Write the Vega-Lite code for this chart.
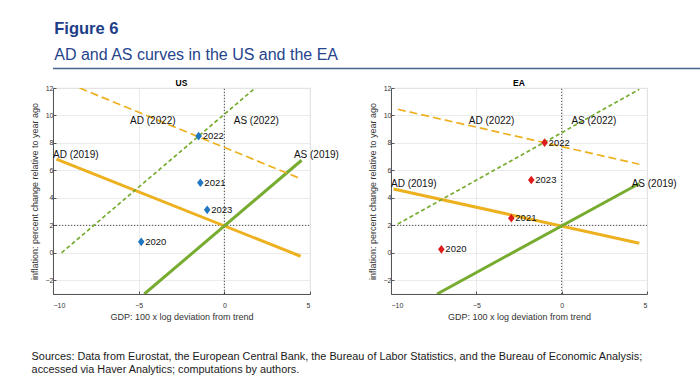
{
  "$schema": "https://vega.github.io/schema/vega-lite/v6.json",
  "padding": {"left": 29, "top": 21, "right": 0, "bottom": 0},
  "background": "white",
  "config": {
    "font": "Liberation Sans",
    "view": {"stroke": "#d4d4d4", "strokeWidth": 0.8},
    "axis": {
      "labelFont": "Liberation Sans", "labelFontSize": 7, "labelColor": "#333",
      "titleFont": "Liberation Sans", "titleFontSize": 9, "titleFontWeight": "normal", "titleColor": "#333",
      "domainColor": "#555", "tickColor": "#555", "tickSize": -3, "labelPadding": 3,
      "gridColor": "#e3e3e3", "gridWidth": 0.7
    },
    "axisX": {"labelPadding": 10},
    "title": {"font": "Liberation Sans"}
  },
  "title": {
    "text": ["Sources: Data from Eurostat, the European Central Bank, the Bureau of Labor Statistics, and the Bureau of Economic Analysis;", "accessed via Haver Analytics; computations by authors."],
    "orient": "bottom", "anchor": "start", "fontSize": 10.85, "fontWeight": "normal", "color": "#1a1a1a",
    "lineHeight": 12.5, "offset": 30, "dx": 2
  },
  "datasets": {
    "header": [{"x": 0, "x2": 1}],
    "ref": [{"x": 0, "y": -3, "x2": 0, "y2": 12}, {"x": -10, "y": 2, "x2": 5, "y2": 2}],
    "us_lines": [
      {"series": "AD (2019)", "x": -9.8, "y": 6.82}, {"series": "AD (2019)", "x": 4.45, "y": -0.25},
      {"series": "AS (2019)", "x": -4.67, "y": -3}, {"series": "AS (2019)", "x": 4.51, "y": 6.74},
      {"series": "AD (2022)", "x": -8.45, "y": 12}, {"series": "AD (2022)", "x": 4.5, "y": 5.37},
      {"series": "AS (2022)", "x": -9.5, "y": 0}, {"series": "AS (2022)", "x": 1.8, "y": 12}
    ],
    "ea_lines": [
      {"series": "AD (2019)", "x": -9.85, "y": 4.65}, {"series": "AD (2019)", "x": 4.55, "y": 0.7},
      {"series": "AS (2019)", "x": -7.3, "y": -3}, {"series": "AS (2019)", "x": 4.55, "y": 5.05},
      {"series": "AD (2022)", "x": -9.6, "y": 10.45}, {"series": "AD (2022)", "x": 4.55, "y": 6.45},
      {"series": "AS (2022)", "x": -9.6, "y": 2.1}, {"series": "AS (2022)", "x": 4.55, "y": 11.9}
    ],
    "us_points": [
      {"label": "2020", "x": -4.85, "y": 0.8},
      {"label": "2021", "x": -1.4, "y": 5.1},
      {"label": "2022", "x": -1.5, "y": 8.5},
      {"label": "2023", "x": -1.0, "y": 3.13}
    ],
    "ea_points": [
      {"label": "2020", "x": -7.05, "y": 0.25},
      {"label": "2021", "x": -2.95, "y": 2.52},
      {"label": "2022", "x": -1.0, "y": 8.02},
      {"label": "2023", "x": -1.78, "y": 5.3}
    ],
    "us_text": [
      {"text": "AD (2022)", "x": -5.5, "y": 9.6},
      {"text": "AS (2022)", "x": 0.55, "y": 9.6},
      {"text": "AD (2019)", "x": -10, "y": 7.1},
      {"text": "AS (2019)", "x": 4.06, "y": 7.1}
    ],
    "ea_text": [
      {"text": "AD (2022)", "x": -5.44, "y": 9.6},
      {"text": "AS (2022)", "x": 0.57, "y": 9.6},
      {"text": "AD (2019)", "x": -10, "y": 5.0},
      {"text": "AS (2019)", "x": 4.1, "y": 5.0}
    ]
  },
  "spacing": 8,
  "vconcat": [
    {
      "width": 652, "height": 1,
      "view": {"stroke": null},
      "title": {
        "text": "Figure 6", "subtitle": "AD and AS curves in the US and the EA",
        "anchor": "start", "fontSize": 16.5, "fontWeight": "bold", "color": "#1d3d87",
        "subtitleFont": "Liberation Sans", "subtitleFontSize": 16, "subtitleColor": "#25448c",
        "subtitlePadding": 9, "offset": 5, "dx": 2
      },
      "data": {"name": "header"},
      "mark": {"type": "rule", "color": "#46658f", "strokeWidth": 1.5},
      "encoding": {
        "x": {"field": "x", "type": "quantitative", "scale": {"domain": [0, 1]}, "axis": null},
        "x2": {"field": "x2"},
        "y": {"datum": 0.5, "type": "quantitative", "scale": {"domain": [0, 1]}, "axis": null}
      }
    },
    {
      "bounds": "flush",
      "spacing": 81,
      "hconcat": [
        {
          "width": 257, "height": 206,
          "title": {"text": "US", "fontSize": 8.5, "fontWeight": "bold", "color": "#000", "offset": -3},
          "encoding": {
            "x": {"field": "x", "type": "quantitative", "scale": {"domain": [-10, 5], "nice": false, "zero": false},
                  "axis": {"values": [-10, -5, 0, 5], "title": "GDP: 100 x log deviation from trend", "titlePadding": 4}},
            "y": {"field": "y", "type": "quantitative", "scale": {"domain": [-3, 12], "nice": false, "zero": false},
                  "axis": {"values": [-2, 0, 2, 4, 6, 8, 10, 12], "title": "inflation: percent change relative to year ago", "titlePadding": 6}}
          },
          "layer": [
            {
              "data": {"name": "ref"},
              "mark": {"type": "rule", "color": "#222", "strokeWidth": 0.8, "strokeDash": [1.2, 1.8]},
              "encoding": {"x2": {"field": "x2"}, "y2": {"field": "y2"}}
            },
            {
              "data": {"name": "us_lines"},
              "transform": [{"filter": {"field": "series", "oneOf": ["AD (2019)", "AS (2019)"]}}],
              "mark": {"type": "line", "clip": true, "strokeWidth": 3},
              "encoding": {
                "color": {"field": "series", "type": "nominal", "legend": null,
                          "scale": {"domain": ["AD (2019)", "AS (2019)", "AD (2022)", "AS (2022)"], "range": ["#EDB120", "#77AC30", "#EDB120", "#77AC30"]}}
              }
            },
            {
              "data": {"name": "us_lines"},
              "transform": [{"filter": {"field": "series", "oneOf": ["AD (2022)", "AS (2022)"]}}],
              "mark": {"type": "line", "clip": true, "strokeWidth": 1.7},
              "encoding": {
                "color": {"field": "series", "type": "nominal", "legend": null},
                "strokeDash": {"field": "series", "type": "nominal", "legend": null,
                          "scale": {"domain": ["AD (2022)", "AS (2022)"], "range": [[8, 4], [4, 2.7]]}}
              }
            },
            {
              "data": {"name": "us_points"},
              "mark": {"type": "point", "shape": "M0,-1L0.75,0L0,1L-0.75,0Z", "filled": true, "size": 76, "color": "#1f77c0", "opacity": 1}
            },
            {
              "data": {"name": "us_points"},
              "mark": {"type": "text", "align": "left", "baseline": "middle", "dx": 4, "fontSize": 9.5, "color": "#111"},
              "encoding": {"text": {"field": "label"}}
            },
            {
              "data": {"name": "us_text"},
              "mark": {"type": "text", "align": "left", "baseline": "middle", "fontSize": 10, "color": "#111"},
              "encoding": {"text": {"field": "text"}}
            }
          ]
        },
        {
          "width": 256, "height": 206,
          "title": {"text": "EA", "fontSize": 8.5, "fontWeight": "bold", "color": "#000", "offset": -3},
          "encoding": {
            "x": {"field": "x", "type": "quantitative", "scale": {"domain": [-10, 5], "nice": false, "zero": false},
                  "axis": {"values": [-10, -5, 0, 5], "title": "GDP: 100 x log deviation from trend", "titlePadding": 4}},
            "y": {"field": "y", "type": "quantitative", "scale": {"domain": [-3, 12], "nice": false, "zero": false},
                  "axis": {"values": [-2, 0, 2, 4, 6, 8, 10, 12], "title": "inflation: percent change relative to year ago", "titlePadding": 6}}
          },
          "layer": [
            {
              "data": {"name": "ref"},
              "mark": {"type": "rule", "color": "#222", "strokeWidth": 0.8, "strokeDash": [1.2, 1.8]},
              "encoding": {"x2": {"field": "x2"}, "y2": {"field": "y2"}}
            },
            {
              "data": {"name": "ea_lines"},
              "transform": [{"filter": {"field": "series", "oneOf": ["AD (2019)", "AS (2019)"]}}],
              "mark": {"type": "line", "clip": true, "strokeWidth": 3},
              "encoding": {
                "color": {"field": "series", "type": "nominal", "legend": null,
                          "scale": {"domain": ["AD (2019)", "AS (2019)", "AD (2022)", "AS (2022)"], "range": ["#EDB120", "#77AC30", "#EDB120", "#77AC30"]}}
              }
            },
            {
              "data": {"name": "ea_lines"},
              "transform": [{"filter": {"field": "series", "oneOf": ["AD (2022)", "AS (2022)"]}}],
              "mark": {"type": "line", "clip": true, "strokeWidth": 1.7},
              "encoding": {
                "color": {"field": "series", "type": "nominal", "legend": null},
                "strokeDash": {"field": "series", "type": "nominal", "legend": null,
                          "scale": {"domain": ["AD (2022)", "AS (2022)"], "range": [[8, 4], [4, 2.7]]}}
              }
            },
            {
              "data": {"name": "ea_points"},
              "mark": {"type": "point", "shape": "M0,-1L0.75,0L0,1L-0.75,0Z", "filled": true, "size": 76, "color": "#e01b1b", "opacity": 1}
            },
            {
              "data": {"name": "ea_points"},
              "mark": {"type": "text", "align": "left", "baseline": "middle", "dx": 4, "fontSize": 9.5, "color": "#111"},
              "encoding": {"text": {"field": "label"}}
            },
            {
              "data": {"name": "ea_text"},
              "mark": {"type": "text", "align": "left", "baseline": "middle", "fontSize": 10, "color": "#111"},
              "encoding": {"text": {"field": "text"}}
            }
          ]
        }
      ]
    }
  ]
}
